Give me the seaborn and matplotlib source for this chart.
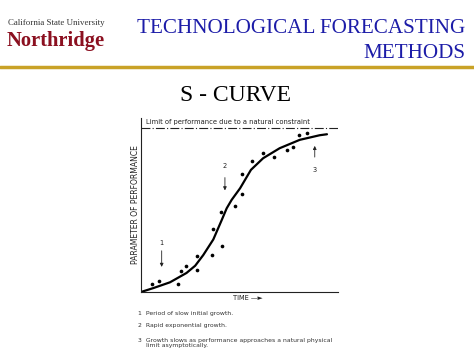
import matplotlib
matplotlib.use("Agg")
import matplotlib.pyplot as plt
import seaborn as sns
import pandas as pd

# observed data points (time, performance)
obs_time = [0.57, 0.93, 1.88, 2.01, 2.28, 2.84, 2.84, 3.58, 3.68, 4.12, 4.04, 4.78, 5.12, 5.14, 5.63, 6.17, 6.77, 7.40, 7.70, 8.01, 8.41]
obs_perf = [0.49, 0.65, 0.49, 1.26, 1.58, 1.34, 2.17, 2.27, 3.85, 2.80, 4.87, 5.21, 6.00, 7.20, 7.99, 8.46, 8.24, 8.66, 8.82, 9.55, 9.70]

# S-curve
curve_time = [0.0, 0.63, 1.47, 2.31, 2.75, 3.16, 3.67, 4.10, 4.35, 4.60, 5.03, 5.58, 6.20, 7.04, 8.06, 9.07, 9.44]
curve_perf = [0.0, 0.24, 0.59, 1.16, 1.60, 2.25, 3.20, 4.39, 5.10, 5.61, 6.32, 7.44, 8.15, 8.76, 9.27, 9.55, 9.61]

limit_value = 10.0
limit_label = "Limit of performance due to a natural constraint"
notes = ["1  Period of slow initial growth.",
         "2  Rapid exponential growth.",
         "3  Growth slows as performance approaches a natural physical\n    limit asymptotically."]

sns.set_theme(style="white")
plt.rcParams['font.family'] = ['DejaVu Sans']

fig = plt.figure(figsize=(4.74, 3.55), dpi=100)
ax = fig.add_axes([141/474, 1-292/355, (338-141)/474, (292-118)/355])

obs = pd.DataFrame({"t": obs_time, "p": obs_perf})
cur = pd.DataFrame({"t": curve_time, "p": curve_perf})
sns.lineplot(data=cur, x="t", y="p", sort=False, color="black", lw=1.6, ax=ax)
sns.scatterplot(data=obs, x="t", y="p", color="black", s=7, linewidth=0, ax=ax)

ax.axhline(limit_value, xmin=0, xmax=1, color="#222222", lw=0.8, ls=(0, (8, 2, 1, 2)))
ax.text(0.25, limit_value + 0.2, limit_label, fontsize=4.85, color="#222222", va="bottom")

ax.set_xlim(0, 10)
ax.set_ylim(0, 10.6)
ax.set_xticks([])
ax.set_yticks([])
ax.set_xlabel("")
ax.set_ylabel("")
for s in ["top", "right"]:
    ax.spines[s].set_visible(False)
for s in ["left", "bottom"]:
    ax.spines[s].set_color("#222222")
    ax.spines[s].set_linewidth(0.8)

arr = dict(arrowstyle="-|>", color="#222222", lw=0.6, mutation_scale=5)
ax.annotate("", xy=(1.05, 1.36), xytext=(1.05, 2.68), arrowprops=arr)
ax.text(1.02, 2.98, "1", fontsize=4.8, ha="center", va="center", color="#222222")
ax.annotate("", xy=(4.26, 6.02), xytext=(4.26, 7.14), arrowprops=arr)
ax.text(4.26, 7.65, "2", fontsize=4.8, ha="center", va="center", color="#222222")
ax.annotate("", xy=(8.82, 9.07), xytext=(8.82, 8.05), arrowprops=arr)
ax.text(8.82, 7.44, "3", fontsize=4.8, ha="center", va="center", color="#222222")

fig.text(135/474, 1-205/355, "PARAMETER OF PERFORMANCE", rotation=90, fontsize=5.5,
         ha="center", va="center", color="#222222")
fig.text(248/474, 1-298/355, "TIME \u2014\u25ba", fontsize=4.8, ha="center", va="center", color="#222222")

ny = [313, 325, 338]
for t, y in zip(notes, ny):
    fig.text(138/474, 1-y/355, t, fontsize=4.4, ha="left", va="top" if "\n" in t else "center",
             color="#333333", linespacing=1.1)

# slide header
fig.text(465/474, 1-33/355, "TECHNOLOGICAL FORECASTING", fontsize=15.2, ha="right", va="baseline",
         color="#1c1ca8", family="Liberation Serif")
fig.text(465/474, 1-58/355, "METHODS", fontsize=15.2, ha="right", va="baseline",
         color="#1c1ca8", family="Liberation Serif")
fig.text(8/474, 1-25/355, "California State University", fontsize=6.4, ha="left", va="baseline",
         color="#333333", family="Liberation Serif")
fig.text(7/474, 1-46/355, "Northridge", fontsize=14.8, ha="left", va="baseline",
         color="#8b1020", family="Liberation Serif", weight="bold")
fig.add_artist(plt.Line2D([0, 1], [1-67/355, 1-67/355], color="#c9a227", lw=2.5,
                          transform=fig.transFigure))
fig.text(235/474, 1-101/355, "S - CURVE", fontsize=17, ha="center", va="baseline",
         color="black", family="Liberation Serif")

fig.savefig("out.png", dpi=100)
